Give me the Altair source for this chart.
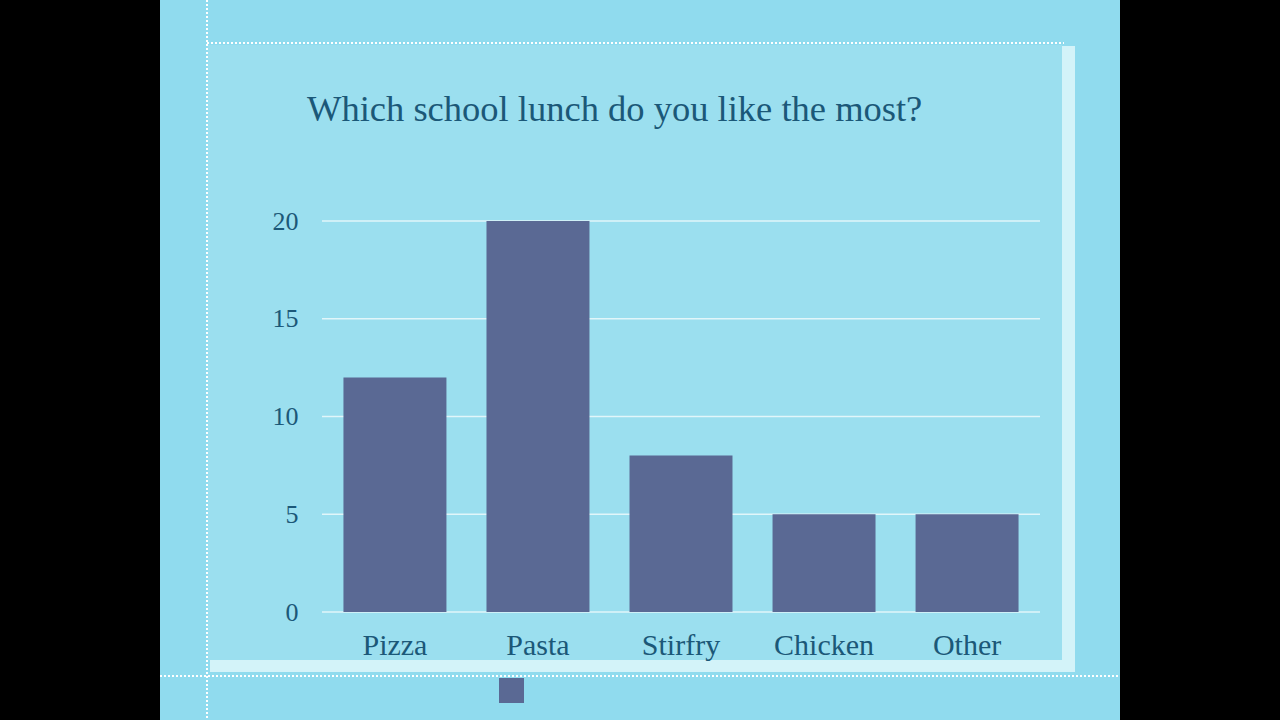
import altair as alt
import pandas as pd

categories = ["Pizza", "Pasta", "Stirfry", "Chicken", "Other"]
votes = [12, 20, 8, 5, 5]
series = ["Series 1"] * 5
y_ticks = [0, 5, 10, 15, 20]
title_text = "Which school lunch do you like the most?"

df = pd.DataFrame({"lunch": categories, "votes": votes, "series": series})
ticks_df = pd.DataFrame({"votes": y_ticks})

TEXT = "#1b5878"
BAR = "#5a6994"
PANEL = "#90dbee"
FONT = "Liberation Serif"

# decorative background panel and frame (plot-area relative pixels)
panel = alt.Chart(df).mark_rect(color=PANEL).encode(
    x=alt.value(-162), x2=alt.value(798), y=alt.value(-221), y2=alt.value(499)
)
inner = alt.Chart(df).mark_rect(color="#9be0f0", opacity=0.5).encode(
    x=alt.value(-114), x2=alt.value(740), y=alt.value(-176), y2=alt.value(439)
)
dot_v = alt.Chart(df).mark_rule(color="white", opacity=0.7, strokeWidth=2, strokeDash=[2, 2]).encode(
    x=alt.value(-115), y=alt.value(-221), y2=alt.value(499)
)
dot_top = alt.Chart(df).mark_rule(color="white", opacity=0.7, strokeWidth=2, strokeDash=[2, 2]).encode(
    x=alt.value(-115), x2=alt.value(742), y=alt.value(-178)
)
dot_bottom = alt.Chart(df).mark_rule(color="white", opacity=0.7, strokeWidth=2, strokeDash=[2, 2]).encode(
    x=alt.value(-162), x2=alt.value(798), y=alt.value(455)
)
band_bottom = alt.Chart(df).mark_rect(color="#d6f3fa", opacity=0.5).encode(
    x=alt.value(-112), x2=alt.value(753), y=alt.value(439), y2=alt.value(451)
)
band_right = alt.Chart(df).mark_rect(color="#d6f3fa", opacity=0.5).encode(
    x=alt.value(740), x2=alt.value(753), y=alt.value(-175), y2=alt.value(439)
)

yscale = alt.Scale(domain=[0, 20], nice=False)
yaxis = alt.Axis(
    title=None, values=y_ticks, ticks=False, domain=False, zindex=1,
    grid=False,
    labelFont=FONT, labelFontSize=26, labelColor=TEXT, labelPadding=24,
)

grid = alt.Chart(ticks_df).mark_rule(color="white", opacity=0.7, strokeWidth=1.5).encode(
    y=alt.Y("votes:Q", scale=yscale, axis=yaxis),
    x=alt.value(0), x2=alt.value(718),
)

bars = alt.Chart(df).mark_bar(color=BAR).encode(
    x=alt.X(
        "lunch:N",
        sort=categories,
        scale=alt.Scale(paddingInner=0.28, paddingOuter=0.15),
        axis=alt.Axis(
            title=None, labelAngle=0, ticks=False, domain=False, zindex=1,
            labelFont=FONT, labelFontSize=30, labelColor=TEXT, labelPadding=18,
        ),
    ),
    y=alt.Y("votes:Q", scale=yscale, axis=yaxis),
    color=alt.Color(
        "series:N",
        scale=alt.Scale(range=[BAR]),
        legend=alt.Legend(
            orient="none", legendX=177, legendY=457, title=None,
            symbolType="square", symbolSize=625, symbolStrokeWidth=0,
            symbolOpacity=1, labelExpr="''", padding=0, labelFontSize=1,
        ),
    ),
)

chart = alt.layer(
    panel, inner, dot_v, dot_top, dot_bottom, band_bottom, band_right, grid, bars
).properties(
    width=718,
    height=391,
    autosize=alt.AutoSizeParams(type="none"),
    padding={"left": 322, "top": 221, "right": 240, "bottom": 108},
    background="black",
    title=alt.TitleParams(
        title_text, anchor="start", dx=148, offset=-129,
        font=FONT, fontSize=36.5, fontWeight="normal", color=TEXT,
    ),
).configure_view(stroke=None)

chart.save("out.html", embed_options={"renderer": "svg", "actions": False})
